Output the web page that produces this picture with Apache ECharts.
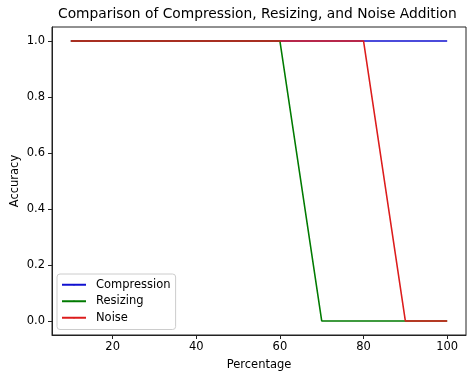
<!DOCTYPE html>
<html><head><meta charset="utf-8">
<script src="https://cdn.jsdelivr.net/npm/echarts@6/dist/echarts.min.js"></script>
<style>html,body{margin:0;padding:0;background:#fff}#c{width:474px;height:380px}</style>
</head><body><div id="c"></div>
<script>
const percentages = [10, 20, 30, 40, 50, 60, 70, 80, 90, 100];
const compression = [1, 1, 1, 1, 1, 1, 1, 1, 1, 1];
const resizing = [1, 1, 1, 1, 1, 1, 0, 0, 0, 0];
const noise = [1, 1, 1, 1, 1, 1, 1, 1, 0, 0];
const xTicks = [20, 40, 60, 80, 100];
const yTicks = [0, 0.2, 0.4, 0.6, 0.8, 1.0];

const font = 'DejaVu Sans';
const fs = 11.5;
const chart = echarts.init(document.getElementById('c'), null, {renderer: 'canvas'});
const mk = (name, vals, color) => ({
  name, type: 'line', data: percentages.map((p, i) => [p, vals[i]]),
  symbol: 'none', lineStyle: {color, width: 1.6}, itemStyle: {color}, animation: false
});
chart.setOption({
  animation: false,
  title: {text: 'Comparison of Compression, Resizing, and Noise Addition', left: 58, top: 7, padding: 0,
    textStyle: {fontFamily: font, fontSize: 13.8, fontWeight: 'normal', color: '#000'}},
  grid: {left: 52, right: 8, top: 27, bottom: 45, show: true, borderColor: '#222', borderWidth: 1,
    containLabel: false, outerBoundsMode: 'none'},
  xAxis: {type: 'value', min: 5.5, max: 104.5,
    name: 'Percentage', nameLocation: 'middle', nameGap: 24, nameMoveOverlap: false,
    nameTextStyle: {fontFamily: font, fontSize: fs, color: '#000'},
    axisLine: {show: true, onZero: false, lineStyle: {color: '#222', width: 1}},
    axisTick: {show: true, length: 4, lineStyle: {color: '#222'}, customValues: xTicks},
    axisLabel: {fontFamily: font, fontSize: fs, color: '#000', margin: 6, customValues: xTicks},
    splitLine: {show: false}},
  yAxis: {type: 'value', min: -0.05, max: 1.05,
    name: 'Accuracy', nameLocation: 'middle', nameGap: 31, nameRotate: 90, nameMoveOverlap: false,
    nameTextStyle: {fontFamily: font, fontSize: fs, color: '#000'},
    axisLine: {show: true, onZero: false, lineStyle: {color: '#222', width: 1}},
    axisTick: {show: true, length: 4, lineStyle: {color: '#222'}, customValues: yTicks},
    axisLabel: {fontFamily: font, fontSize: fs, color: '#000', margin: 7, customValues: yTicks,
      formatter: v => v.toFixed(1)},
    splitLine: {show: false}},
  legend: {orient: 'vertical', left: 57, top: 274, data: ['Compression', 'Resizing', 'Noise'],
    itemWidth: 24, itemHeight: 2, itemGap: 3,
    padding: [4, 5, 5, 4], borderColor: '#cccccc', borderWidth: 1, borderRadius: 3,
    backgroundColor: 'rgba(255,255,255,0.8)',
    textStyle: {fontFamily: font, fontSize: fs, color: '#000', lineHeight: 13.5, padding: [0, 0, 0, 5]}},
  series: [mk('Compression', compression, '#1010d0'), mk('Resizing', resizing, '#007a00'), mk('Noise', noise, '#dc1c1c')]
});
</script></body></html>
